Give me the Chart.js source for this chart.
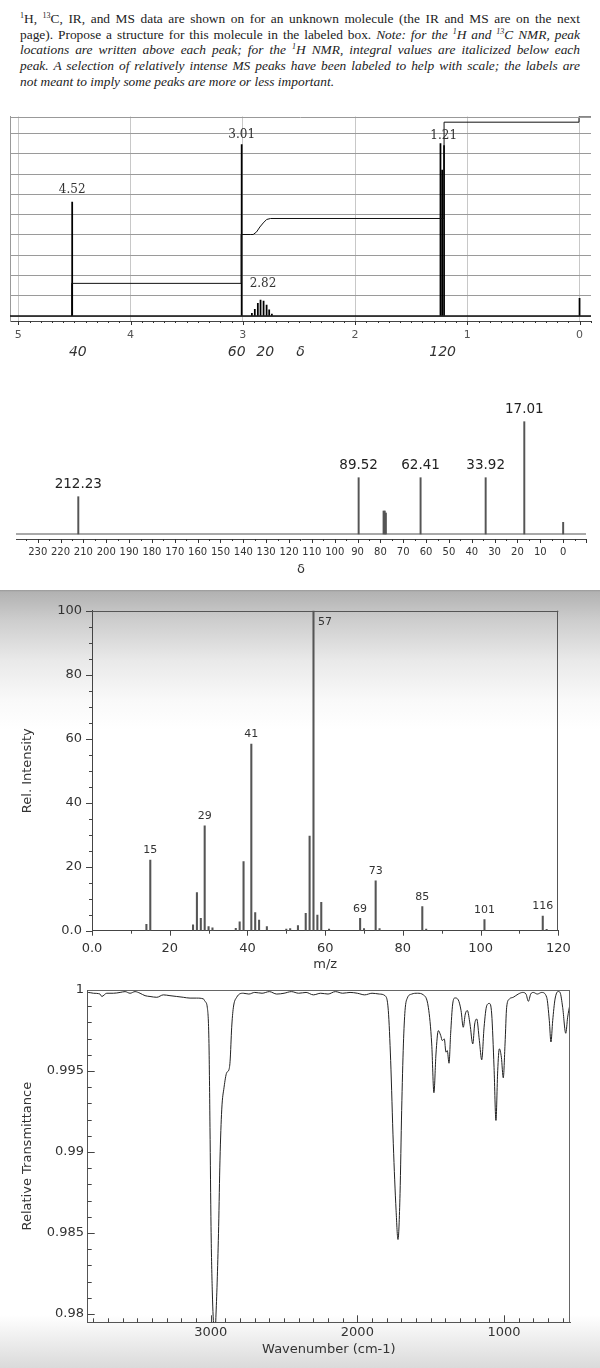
<!DOCTYPE html>
<html>
<head>
<meta charset="utf-8">
<script src="https://cdn.jsdelivr.net/npm/chart.js@4.4.1/dist/chart.umd.min.js"></script>
<style>
  body { margin: 0; width: 600px; height: 1368px; position: relative; overflow: hidden; background: #fff; }
  .intro { position: absolute; left: 20px; top: 11px; width: 560px; font-family: "Liberation Serif", serif; font-size: 13.4px; line-height: 15.7px; color: #222; }
  .intro div { text-align: justify; text-align-last: justify; white-space: nowrap; }
  .intro div.end { text-align-last: left; }
  .intro sup { font-size: 8px; line-height: 0; vertical-align: 5px; }
  .panel { position: absolute; left: 0; top: 590px; width: 600px; height: 778px;
    background: linear-gradient(to bottom, #999 0px, #b2b2b2 2px, #cdcdcd 30px, #e9e9e9 70px, #f9f9f9 110px, #fff 140px, #fff 725px, #dadada 778px); }
  canvas { position: absolute; left: 0; }
</style>
</head>
<body>
<div class="intro">
  <div><sup>1</sup>H, <sup>13</sup>C, IR, and MS data are shown on for an unknown molecule (the IR and MS are on the next</div>
  <div>page). Propose a structure for this molecule in the labeled box. <i>Note: for the <sup>1</sup>H and <sup>13</sup>C NMR, peak</i></div>
  <div><i>locations are written above each peak; for the <sup>1</sup>H NMR, integral values are italicized below each</i></div>
  <div><i>peak. A selection of relatively intense MS peaks have been labeled to help with scale; the labels are</i></div>
  <div class="end"><i>not meant to imply some peaks are more or less important.</i></div>
</div>
<div class="panel"></div>
<canvas id="hnmr" width="600" height="265" style="top:100px"></canvas>
<canvas id="cnmr" width="600" height="200" style="top:380px"></canvas>
<canvas id="ms" width="600" height="385" style="top:590px"></canvas>
<canvas id="ir" width="600" height="393" style="top:975px"></canvas>
<script>
// 1H NMR
const hPeakShifts = [4.52, 3.01, 2.919, 2.893, 2.866, 2.842, 2.815, 2.788, 2.765, 2.741, 1.239, 1.224, 1.207, 0.0];
const hPeakHeights = [5.62, 8.45, 0.13, 0.33, 0.62, 0.79, 0.74, 0.54, 0.30, 0.10, 8.5, 7.2, 8.4, 0.87];
const hIntegralShifts = [4.525, 4.525, 3.015, 3.015, 2.93, 2.907, 2.877, 2.848, 2.818, 2.788, 2.753, 1.207, 1.207, 0.005, 0.005, -0.102];
const hIntegralValues = [0, 1.61, 1.61, 4.02, 4.02, 4.02, 4.15, 4.39, 4.59, 4.76, 4.81, 4.81, 9.56, 9.56, 9.84, 9.84];
const hShiftLabels = ['4.52', '3.01', '2.82', '1.21'];
const hIntegralLabels = ['40', '60', '20', '120'];
const hIntegralLabelShifts = [4.47, 3.055, 2.80, 1.22];
const hTicks = [0, 1, 2, 3, 4, 5];
const hGridLevels = [0, 1, 2, 3, 4, 5, 6, 7, 8, 9];

// 13C NMR
const cPeakShifts = [212.23, 89.52, 78.6, 78.1, 77.6, 62.41, 33.92, 17.01, 0.0];
const cPeakHeights = [37.3, 56.3, 23, 23, 21, 56.3, 56.3, 112.3, 11.7];
const cLabeledShifts = [212.23, 89.52, 62.41, 33.92, 17.01];
const cTicks = [0, 10, 20, 30, 40, 50, 60, 70, 80, 90, 100, 110, 120, 130, 140, 150, 160, 170, 180, 190, 200, 210, 220, 230];

// MS
const msMz = [14, 15, 26, 27, 28, 29, 30, 31, 37, 38, 39, 41, 42, 43, 45, 50, 51, 53, 55, 56, 57, 58, 59, 61, 69, 70, 73, 74, 85, 86, 101, 116, 117];
const msIntensity = [2.0, 22.1, 1.8, 11.9, 3.9, 32.8, 1.3, 0.9, 0.75, 2.8, 21.6, 58.3, 5.7, 3.3, 1.3, 0.5, 0.7, 1.6, 5.4, 29.6, 100, 4.9, 8.9, 0.5, 3.9, 0.7, 15.6, 0.7, 7.5, 0.5, 3.5, 4.6, 0.4];
const msLabeledMz = [15, 29, 41, 57, 69, 73, 85, 101, 116];
const msXTicks = [0, 20, 40, 60, 80, 100, 120];
const msYTicks = [0, 20, 40, 60, 80, 100];

// IR
const irWavenumber = [3839, 3835, 3800, 3755, 3743, 3709, 3664, 3618, 3584, 3550,
  3516, 3482, 3448, 3414, 3368, 3323, 3278, 3232, 3187, 3141,
  3096, 3050, 3039, 3023, 3012, 3005, 2998, 2989, 2978, 2971,
  2964, 2955, 2946, 2937, 2925, 2909, 2891, 2877, 2868, 2857,
  2846, 2823, 2778, 2740, 2700, 2650, 2600, 2550, 2500, 2450,
  2400, 2350, 2300, 2250, 2200, 2150, 2100, 2050, 2000, 1950,
  1900, 1850, 1812, 1789, 1773, 1755, 1736, 1723, 1709, 1698,
  1686, 1675, 1659, 1629, 1590, 1550, 1516, 1493, 1478, 1464,
  1448, 1432, 1421, 1407, 1396, 1387, 1375, 1364, 1350, 1334,
  1312, 1293, 1278, 1264, 1250, 1232, 1213, 1200, 1186, 1168,
  1152, 1136, 1118, 1100, 1084, 1068, 1055, 1043, 1032, 1018,
  1005, 993, 982, 964, 937, 903, 873, 850, 834, 818,
  800, 773, 743, 709, 691, 680, 668, 652, 630, 618,
  600, 579, 566, 550];
const irTransmittance = [0.9998, 0.99985, 0.9998, 0.99975, 0.9996, 0.9998, 0.9998, 0.99985, 0.9999, 0.9998,
  0.9999, 0.9998, 0.99965, 0.9996, 0.99955, 0.9997, 0.99965, 0.9996, 0.99955, 0.9995,
  0.9995, 0.99945, 0.9993, 0.9989, 0.9967, 0.9915, 0.9854, 0.9813, 0.9790, 0.9787,
  0.9800, 0.9823, 0.9854, 0.9895, 0.9926, 0.9940, 0.9949, 0.99505, 0.9956, 0.9977,
  0.9989, 0.99955, 0.9998, 0.99975, 0.99985, 0.9998, 0.9999, 0.99975, 0.9998, 0.9999,
  0.9998, 0.99985, 0.9997, 0.9998, 0.99975, 0.9999, 0.9998, 0.99985, 0.9998, 0.9997,
  0.9998, 0.99975, 0.99965, 0.99873, 0.99564, 0.99051, 0.9864, 0.9846, 0.98743, 0.99257,
  0.99667, 0.99873, 0.99951, 0.99975, 0.9998, 0.9997, 0.99893, 0.99667, 0.99366, 0.99605,
  0.99749, 0.9972, 0.99688, 0.99698, 0.99616, 0.99626, 0.99548, 0.9973, 0.99914, 0.99951,
  0.99939, 0.99873, 0.9977, 0.99852, 0.99873, 0.9979, 0.99667, 0.9979, 0.99821, 0.99688,
  0.99569, 0.9977, 0.99903, 0.99917, 0.99852, 0.99523, 0.99195, 0.99503, 0.99637, 0.99585,
  0.99458, 0.99667, 0.99893, 0.99944, 0.99955, 0.99975, 0.99985, 0.99975, 0.9993, 0.99975,
  0.99985, 0.99975, 0.99985, 0.99955, 0.99811, 0.99679, 0.99811, 0.99944, 0.99991, 0.99985,
  0.99893, 0.99733, 0.99832, 0.99914];
const irXTicks = [1000, 2000, 3000];
const irYTicks = [0.98, 0.985, 0.99, 0.995, 1];

Chart.defaults.font.family = '"DejaVu Sans", sans-serif';
Chart.defaults.color = '#333';

const points = (xs, ys) => xs.map((x, i) => ({ x: x, y: ys[i] }));
const useTicks = list => scale => { scale.ticks = list.slice().sort((a, b) => a - b).map(v => ({ value: v })); };

// small tick marks along the bottom / left edge of the plot area
function tickMarks(marks, color) {
  return {
    id: 'tickMarks',
    afterDraw(chart) {
      const { ctx, chartArea } = chart;
      ctx.save();
      ctx.strokeStyle = color;
      ctx.lineWidth = 1;
      marks.forEach(m => {
        const scale = chart.scales[m.axis];
        const n = Math.round((m.to - m.from) / m.step);
        ctx.beginPath();
        for (let i = 0; i <= n; i++) {
          const p = Math.round(scale.getPixelForValue(m.from + i * m.step)) + 0.5;
          if (m.axis === 'x') {
            ctx.moveTo(p, chartArea.bottom);
            ctx.lineTo(p, chartArea.bottom + m.len);
          } else {
            ctx.moveTo(chartArea.left, p);
            ctx.lineTo(chartArea.left - m.len, p);
          }
        }
        ctx.stroke();
      });
      ctx.restore();
    }
  };
}

function frameLines(sides, color) {
  return {
    id: 'frameLines',
    afterDraw(chart) {
      const { ctx, chartArea: a } = chart;
      ctx.save();
      ctx.strokeStyle = color;
      ctx.lineWidth = 1;
      ctx.beginPath();
      if (sides.includes('top')) {
        const y = Math.round(a.top) + 0.5;
        ctx.moveTo(a.left, y); ctx.lineTo(a.right, y);
      }
      if (sides.includes('right')) {
        const x = Math.round(a.right) - 0.5;
        ctx.moveTo(x, a.top); ctx.lineTo(x, a.bottom);
      }
      ctx.stroke();
      ctx.restore();
    }
  };
}

function textLabels(build) {
  return {
    id: 'textLabels',
    afterDraw(chart) {
      const ctx = chart.ctx;
      ctx.save();
      ctx.textBaseline = 'middle';
      build(chart).forEach(t => {
        ctx.font = t.font;
        ctx.fillStyle = t.color || '#333';
        ctx.textAlign = t.align || 'center';
        ctx.fillText(t.text, t.x, t.y);
      });
      ctx.restore();
    }
  };
}

const base = padding => ({
  responsive: false,
  animation: false,
  events: [],
  layout: { padding: padding },
  plugins: { legend: { display: false }, tooltip: { enabled: false } }
});

// ---------- 1H NMR ----------
const hLabelGap = [12, 10, 16, 8];
new Chart(document.getElementById('hnmr'), {
  type: 'bar',
  data: {
    datasets: [
      { type: 'line', data: points(hIntegralShifts, hIntegralValues), borderColor: '#111', borderWidth: 1, pointRadius: 0, tension: 0 },
      { type: 'line', data: [{ x: -0.102, y: 0 }, { x: 5.074, y: 0 }], borderColor: '#111', borderWidth: 1.3, pointRadius: 0 },
      { type: 'bar', data: points(hPeakShifts, hPeakHeights), backgroundColor: '#000', barThickness: 1.1, grouped: false }
    ]
  },
  options: Object.assign(base({ left: 10, right: 9, top: 16.5, bottom: 0 }), {
    scales: {
      x: {
        type: 'linear', reverse: true, min: -0.102, max: 5.074, offset: false,
        afterFit: s => { s.height = 44; },
        afterBuildTicks: useTicks(hTicks),
        grid: { offset: false, color: '#c8c8c8', drawTicks: false },
        border: { display: true, color: '#444' },
        ticks: { padding: 7.4, color: '#555', autoSkip: false, maxRotation: 0, font: { size: 11 } },
        title: { display: true, text: 'δ', color: '#333', padding: { top: 0, bottom: 4 }, font: { size: 14, style: 'italic' } }
      },
      y: {
        min: -0.246, max: 9.84,
        afterFit: s => { s.width = 0; },
        afterBuildTicks: useTicks(hGridLevels),
        grid: { color: '#9a9a9a', drawTicks: false },
        border: { display: true, color: '#999' },
        ticks: { display: false }
      }
    }
  }),
  plugins: [
    tickMarks([{ axis: 'x', from: -0.1, to: 5.0, step: 0.1, len: 2 }, { axis: 'x', from: 0, to: 5, step: 1, len: 4 }], '#333'),
    frameLines(['top'], '#999'),
    textLabels(chart => {
      const xs = chart.scales.x, ys = chart.scales.y;
      const out = hShiftLabels.map((t, i) => {
        const s = parseFloat(t);
        const top = Math.max(...hPeakShifts.map((p, j) => Math.abs(p - s) < 0.12 ? hPeakHeights[j] : 0));
        return { text: t, x: xs.getPixelForValue(s), y: ys.getPixelForValue(top) - hLabelGap[i], font: '12px "DejaVu Serif"', color: '#333' };
      });
      hIntegralLabels.forEach((t, i) => {
        out.push({ text: t, x: xs.getPixelForValue(hIntegralLabelShifts[i]), y: 252, font: 'italic 14px "DejaVu Sans"', color: '#333' });
      });
      return out;
    })
  ]
});

// ---------- 13C NMR ----------
new Chart(document.getElementById('cnmr'), {
  type: 'bar',
  data: {
    datasets: [
      { type: 'line', data: [{ x: -10, y: 0 }, { x: 239.5, y: 0 }], borderColor: '#555', borderWidth: 1.2, pointRadius: 0 },
      { type: 'bar', data: points(cPeakShifts, cPeakHeights), backgroundColor: '#555', barThickness: 1.3, grouped: false }
    ]
  },
  options: Object.assign(base({ left: 16, right: 14, top: 15, bottom: 0 }), {
    scales: {
      x: {
        type: 'linear', reverse: true, min: -10, max: 239.5, offset: false,
        afterFit: s => { s.height = 41; },
        afterBuildTicks: useTicks(cTicks),
        grid: { display: false, drawTicks: false },
        border: { display: true, color: '#444' },
        ticks: { padding: 7.4, color: '#333', autoSkip: false, maxRotation: 0, minRotation: 0, font: { size: 10 } },
        title: { display: true, text: 'δ', color: '#333', padding: { top: 0, bottom: 3 }, font: { size: 13 } }
      },
      y: { display: false, min: -5, max: 139 }
    }
  }),
  plugins: [
    tickMarks([{ axis: 'x', from: -5, to: 235, step: 5, len: 2 }, { axis: 'x', from: -10, to: 230, step: 10, len: 4 }], '#333'),
    textLabels(chart => {
      const xs = chart.scales.x, ys = chart.scales.y;
      return cLabeledShifts.map(s => ({
        text: s.toFixed(2),
        x: xs.getPixelForValue(s),
        y: ys.getPixelForValue(cPeakHeights[cPeakShifts.indexOf(s)]) - 12,
        font: '13.5px "DejaVu Sans"', color: '#222'
      }));
    })
  ]
});

// ---------- MS ----------
new Chart(document.getElementById('ms'), {
  type: 'bar',
  data: {
    datasets: [
      { type: 'bar', data: points(msMz, msIntensity), backgroundColor: '#555', barThickness: 1.4, grouped: false }
    ]
  },
  options: Object.assign(base({ left: 0, right: 41.7, top: 20.7, bottom: 0 }), {
    scales: {
      x: {
        type: 'linear', min: 0, max: 120, offset: false,
        afterFit: s => { s.height = 44.3; },
        afterBuildTicks: useTicks(msXTicks),
        grid: { display: false, drawTicks: false },
        border: { display: true, color: '#444' },
        ticks: { padding: 9.8, maxRotation: 0, font: { size: 13 }, callback: v => v === 0 ? '0.0' : String(v) },
        title: { display: true, text: 'm/z', padding: { top: 0, bottom: 2.2 }, font: { size: 13 } }
      },
      y: {
        min: 0, max: 100,
        afterFit: s => { s.width = 92; },
        afterBuildTicks: useTicks(msYTicks),
        grid: { display: false, drawTicks: false },
        border: { display: true, color: '#444' },
        ticks: { padding: 10, font: { size: 13 }, callback: v => v === 0 ? '0.0' : String(v) },
        title: { display: true, text: 'Rel. Intensity', padding: { top: 20.2, bottom: 0 }, font: { size: 13 } }
      }
    }
  }),
  plugins: [
    tickMarks([
      { axis: 'x', from: 10, to: 110, step: 20, len: 3 },
      { axis: 'x', from: 0, to: 120, step: 20, len: 5 },
      { axis: 'y', from: 0, to: 100, step: 5, len: 3 },
      { axis: 'y', from: 0, to: 100, step: 20, len: 6 }
    ], '#444'),
    frameLines(['top', 'right'], '#555'),
    textLabels(chart => {
      const xs = chart.scales.x, ys = chart.scales.y;
      return msLabeledMz.map(m => {
        const v = msIntensity[msMz.indexOf(m)];
        if (v >= 100) {
          return { text: String(m), x: xs.getPixelForValue(m) + 4.5, y: chart.chartArea.top + 11, align: 'left', font: '11px "DejaVu Sans"' };
        }
        return { text: String(m), x: xs.getPixelForValue(m), y: ys.getPixelForValue(v) - 9.5, font: '11px "DejaVu Sans"' };
      });
    })
  ]
});

// ---------- IR ----------
new Chart(document.getElementById('ir'), {
  type: 'scatter',
  data: {
    datasets: [
      { data: points(irWavenumber, irTransmittance), showLine: true, borderColor: '#222', borderWidth: 1, pointRadius: 0, cubicInterpolationMode: 'monotone' }
    ]
  },
  options: Object.assign(base({ left: 0, right: 30, top: 15, bottom: 0 }), {
    scales: {
      x: {
        type: 'linear', reverse: true, min: 550, max: 3839,
        afterFit: s => { s.height = 45.7; },
        afterBuildTicks: useTicks(irXTicks),
        grid: { display: false, drawTicks: false },
        border: { display: true, color: '#555' },
        ticks: { padding: 2.2, maxRotation: 0, font: { size: 13 }, callback: v => String(v) },
        title: { display: true, text: 'Wavenumber (cm-1)', padding: { top: 0, bottom: 10.9 }, font: { size: 13 } }
      },
      y: {
        min: 0.97949, max: 1.0,
        afterFit: s => { s.width = 87.7; },
        afterBuildTicks: useTicks(irYTicks),
        grid: { display: false, drawTicks: false },
        border: { display: true, color: '#555' },
        ticks: { padding: 3.7, font: { size: 13 }, callback: v => String(v) },
        title: { display: true, text: 'Relative Transmittance', padding: { top: 20.2, bottom: 0 }, font: { size: 13 } }
      }
    }
  }),
  plugins: [
    tickMarks([
      { axis: 'x', from: 600, to: 3800, step: 100, len: -4 },
      { axis: 'x', from: 1000, to: 3000, step: 1000, len: -7 },
      { axis: 'y', from: 0.98, to: 1.0, step: 0.001, len: -4 },
      { axis: 'y', from: 0.98, to: 1.0, step: 0.005, len: -7 }
    ], '#444'),
    frameLines(['top', 'right'], '#666')
  ]
});
</script>
</body>
</html>
